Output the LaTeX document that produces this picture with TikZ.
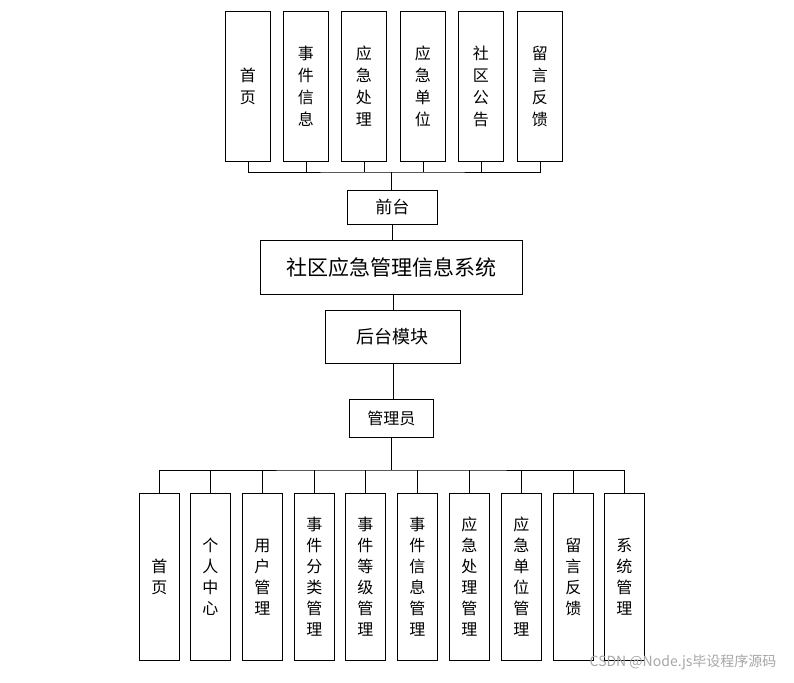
\documentclass[tikz,border=0pt]{standalone}
\usepackage{fontspec}
\setmainfont{Noto Sans CJK SC}
\begin{document}
\begin{tikzpicture}[x=1pt,y=-1pt,
  bx/.style={draw,line width=0.8pt,inner sep=0pt,anchor=north west},
  ln/.style={line width=0.8pt}]
\useasboundingbox (0,0) rectangle (794,682);
\def\tb#1#2#3{\node[bx,minimum width=45pt,minimum height=150pt,font=\fontsize{16}{22}\selectfont,align=center] (#1) at (#2,11) {#3};}
\tb{t1}{225}{首\\页}
\tb{t2}{283}{事\\件\\信\\息}
\tb{t3}{341}{应\\急\\处\\理}
\tb{t4}{400}{应\\急\\单\\位}
\tb{t5}{458}{社\\区\\公\\告}
\tb{t6}{517}{留\\言\\反\\馈}
\node[bx,minimum width=90pt,minimum height=34pt,font=\fontsize{17}{20}\selectfont] (qt) at (347,190) {前台};
\node[bx,minimum width=262pt,minimum height=54pt,font=\fontsize{21}{24}\selectfont] (sys) at (260,240) {社区应急管理信息系统};
\node[bx,minimum width=135pt,minimum height=53pt,font=\fontsize{18}{22}\selectfont] (ht) at (325,310) {后台模块};
\node[bx,minimum width=84pt,minimum height=38pt,font=\fontsize{16}{20}\selectfont] (gly) at (349,399) {管理员};
\def\bb#1#2#3{\node[bx,minimum width=40pt,minimum height=167pt,font=\fontsize{16}{21}\selectfont,align=center] (#1) at (#2,493) {#3};}
\bb{b1}{139}{首\\页}
\bb{b2}{190}{个\\人\\中\\心}
\bb{b3}{242}{用\\户\\管\\理}
\bb{b4}{294}{事\\件\\分\\类\\管\\理}
\bb{b5}{345}{事\\件\\等\\级\\管\\理}
\bb{b6}{397}{事\\件\\信\\息\\管\\理}
\bb{b7}{449}{应\\急\\处\\理\\管\\理}
\bb{b8}{501}{应\\急\\单\\位\\管\\理}
\bb{b9}{553}{留\\言\\反\\馈}
\bb{b10}{604}{系\\统\\管\\理}
\coordinate (tbus) at (391,172);
\coordinate (bbus) at (391,470);
\draw[ln] (t1.south) |- (tbus) -| (t6.south);
\foreach \n in {t2,t3,t4,t5} \draw[ln] (\n.south) -- (\n.south |- tbus);
\draw[ln] (qt.north -| tbus) -- (tbus);
\draw[ln] (qt.south) -- (sys.north -| qt.south);
\draw[ln] (sys.south -| ht.north) -- (ht.north);
\draw[ln] (ht.south) -- (gly.north -| ht.south);
\draw[ln] (gly.south -| bbus) -- (bbus);
\draw[ln] (b1.north) |- (bbus) -| (b10.north);
\foreach \n in {b2,b3,b4,b5,b6,b7,b8,b9} \draw[ln] (\n.north) -- (\n.north |- bbus);
\node[anchor=east,text=gray!70,font=\fontsize{14}{16}\selectfont] (wm) at (780,662) {CSDN @Node.js毕设程序源码};
\end{tikzpicture}
\end{document}
